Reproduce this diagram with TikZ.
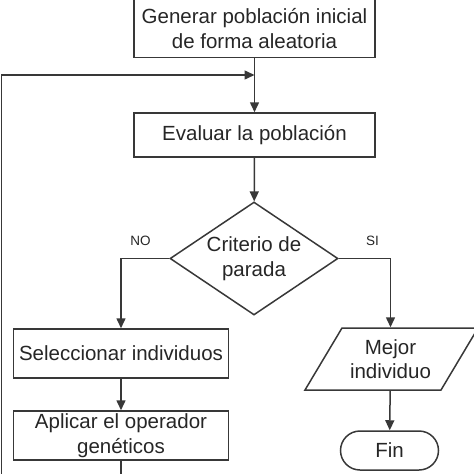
\documentclass[tikz,border=0pt]{standalone}
\usepackage{fontspec}
\setmainfont{Liberation Sans}
\usetikzlibrary{shapes.geometric,arrows.meta}
\definecolor{linegray}{HTML}{383838}
\definecolor{textgray}{HTML}{262626}

\begin{document}
\begin{tikzpicture}[x=1pt,y=-1pt,
    line width=1.5pt,
    every node/.style={text=textgray,font=\fontsize{20.5}{24.5}\selectfont,align=center,inner sep=2pt},
    box/.style={draw=linegray,rectangle,minimum width=241pt,minimum height=44pt},
    smallbox/.style={box,minimum width=215pt,minimum height=49pt},
    decision/.style={draw=linegray,diamond,shape aspect=1.49,inner sep=0pt,minimum width=168pt,minimum height=113pt},
    io/.style={rectangle,minimum width=100pt,minimum height=62pt},
    terminal/.style={draw=linegray,rectangle,rounded corners=19.5pt,minimum width=98pt,minimum height=39pt},
    tag/.style={font=\fontsize{13.5}{16}\selectfont},
    flow/.style={draw=linegray,-{Triangle[length=10pt,width=9pt]}}]

\useasboundingbox (0,0) rectangle (474,474);

\node[box,minimum height=58pt] (gen) at (254.5,28.5) {Generar población inicial\\de forma aleatoria};
\node[box] (eval) at (254.5,135) {Evaluar la población};
\node[decision] (crit) at (254,258.5) {Criterio de\\parada};
\node[smallbox] (sel) at (121,353.5) {Seleccionar individuos};
\node[smallbox] (apl) at (121,435.5) {Aplicar el operador\\genéticos};
\node[io] (mej) at (390.5,359) {Mejor\\individuo};
\node[terminal] (fin) at (389.5,450.5) {Fin};

% paralelogramo de salida
\draw [linegray,shift={(mej.center)}] (-85.5,31) -- (-48.5,-31) -- (87.5,-31) -- (50.5,31) -- cycle;

\node[tag] (no) at (140.5,241) {NO};
\node[tag] (si) at (372.5,241) {SI};

\coordinate (join) at (254.5,75);

\draw [flow] (gen) -- (eval);
\draw [flow] (eval) -- (crit);
\draw [flow] (crit.west) -| (sel.north);
\draw [flow] (sel) -- (apl);
\draw [flow] (crit.east) -| (mej.north);
\draw [flow] (mej) -- (fin);

% lazo de vuelta a la evaluacion
\draw [flow] (apl.south) -- ++(0,30) -| (1.5,75) -- (join);
\end{tikzpicture}
\end{document}
